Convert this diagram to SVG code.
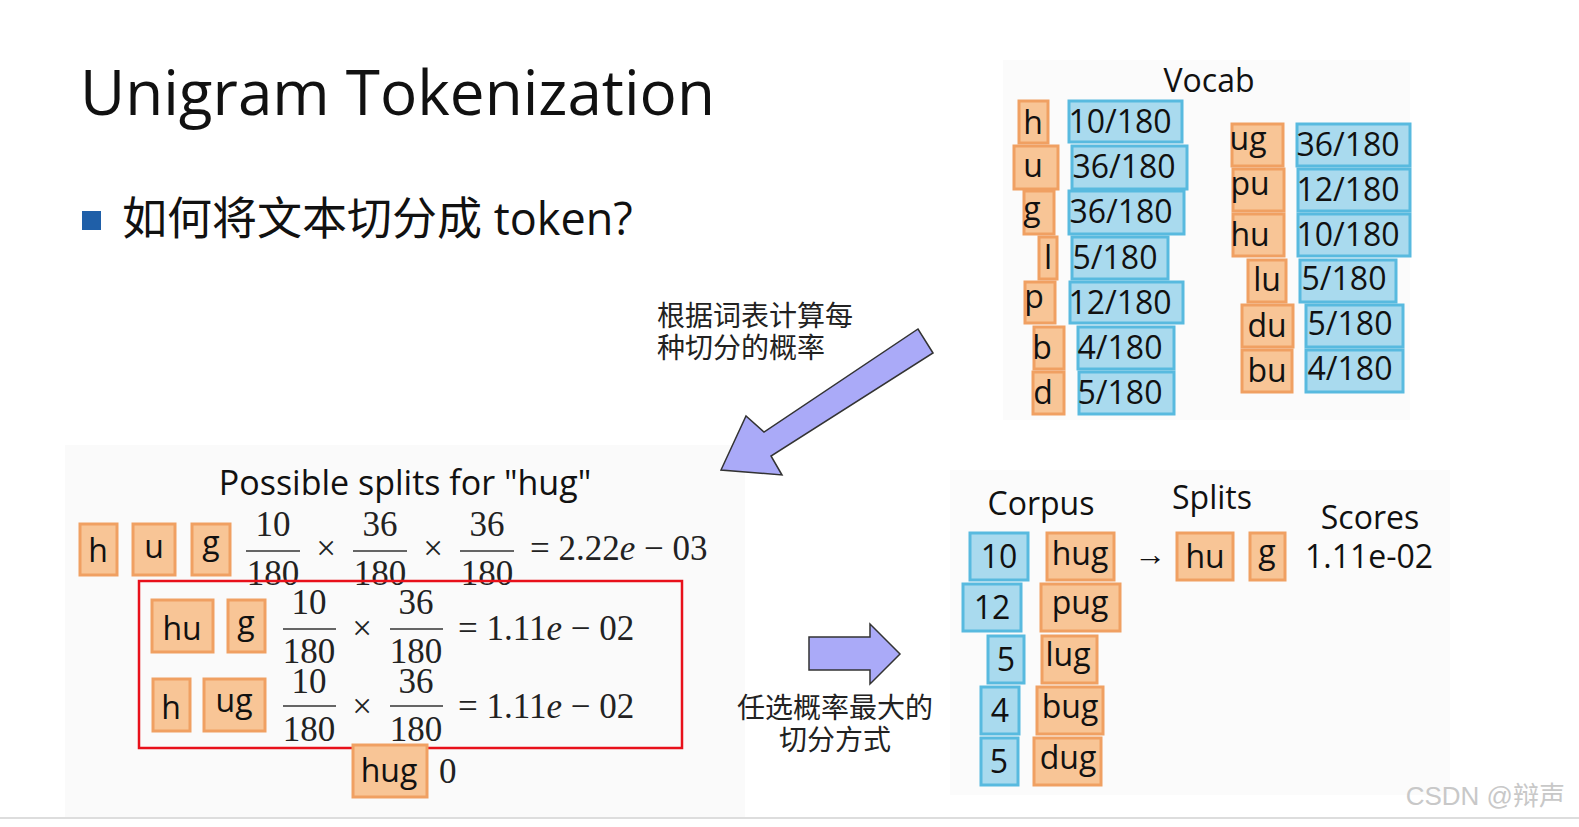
<svg xmlns="http://www.w3.org/2000/svg" width="1579" height="827" viewBox="0 0 1579 827">
<style>
.o{fill:#f8c596;stroke:#f0a062;stroke-width:3}
.b{fill:#a9daee;stroke:#58badf;stroke-width:3}
.t{font-family:"Open Sans","Liberation Sans",sans-serif;font-size:32px;fill:#111;text-anchor:middle}
.h{font-family:"Open Sans","Liberation Sans",sans-serif;fill:#111}
.m{font-family:"Liberation Serif","DejaVu Serif",serif;font-size:35px;fill:#222;text-anchor:middle}
.ml{font-family:"Liberation Serif","DejaVu Serif",serif;font-size:35px;fill:#222}
.fl{stroke:#333;stroke-width:1.5}
.cn{font-family:"Noto Sans CJK SC",sans-serif;font-size:28px;fill:#222}
.ar{fill:#aaaaf8;stroke:#333;stroke-width:1.5}
</style>
<rect width="1579" height="827" fill="#fff"/>
<rect x="1003" y="60" width="407" height="360" fill="#fbfbfb"/>
<rect x="65" y="445" width="680" height="372" fill="#fafafa"/>
<rect x="950" y="470" width="500" height="325" fill="#fbfbfb"/>
<line x1="0" y1="818" x2="1579" y2="818" stroke="#ddd" stroke-width="2"/>

<g id="title">
<text x="80" y="115" class="h" font-size="62">Unigram Tokenization</text>
<rect x="82" y="211" width="19" height="19" fill="#1f5fa8"/>
<text x="122" y="235" font-size="45" style="font-family:'Open Sans','Noto Sans CJK SC',sans-serif" fill="#111">如何将文本切分成 token?</text>
</g>

<g id="vocab">
<text x="1209" y="92" class="t" font-size="30">Vocab</text>
<rect class="o" x="1019" y="101" width="29" height="42"/><text class="t" x="1033" y="134">h</text>
<rect class="b" x="1069" y="101" width="113" height="41"/><text class="t" x="1120" y="133">10/180</text>
<rect class="o" x="1014" y="146" width="44" height="43"/><text class="t" x="1033" y="177">u</text>
<rect class="b" x="1072" y="146" width="115" height="43"/><text class="t" x="1124" y="178">36/180</text>
<rect class="o" x="1024" y="191" width="30" height="43"/><text class="t" x="1032" y="220">g</text>
<rect class="b" x="1069" y="191" width="115" height="43"/><text class="t" x="1121" y="223">36/180</text>
<rect class="o" x="1039" y="237" width="18" height="42"/><text class="t" x="1048" y="269">l</text>
<rect class="b" x="1072" y="237" width="96" height="42"/><text class="t" x="1115" y="269">5/180</text>
<rect class="o" x="1025" y="282" width="30" height="41"/><text class="t" x="1034" y="308">p</text>
<rect class="b" x="1070" y="282" width="113" height="41"/><text class="t" x="1120" y="314">12/180</text>
<rect class="o" x="1034" y="327" width="30" height="42"/><text class="t" x="1042" y="359">b</text>
<rect class="b" x="1078" y="327" width="96" height="42"/><text class="t" x="1120" y="359">4/180</text>
<rect class="o" x="1033" y="372" width="31" height="42"/><text class="t" x="1043" y="404">d</text>
<rect class="b" x="1079" y="372" width="95" height="42"/><text class="t" x="1120" y="404">5/180</text>

<rect class="o" x="1232" y="124" width="51" height="42"/><text class="t" x="1248" y="150">ug</text>
<rect class="b" x="1297" y="124" width="113" height="42"/><text class="t" x="1348" y="156">36/180</text>
<rect class="o" x="1233" y="169" width="51" height="42"/><text class="t" x="1250" y="195">pu</text>
<rect class="b" x="1298" y="169" width="112" height="42"/><text class="t" x="1348" y="201">12/180</text>
<rect class="o" x="1233" y="214" width="51" height="42"/><text class="t" x="1250" y="246">hu</text>
<rect class="b" x="1298" y="214" width="112" height="42"/><text class="t" x="1348" y="246">10/180</text>
<rect class="o" x="1248" y="260" width="38" height="42"/><text class="t" x="1267" y="291">lu</text>
<rect class="b" x="1300" y="260" width="96" height="42"/><text class="t" x="1344" y="290">5/180</text>
<rect class="o" x="1242" y="305" width="51" height="42"/><text class="t" x="1267" y="337">du</text>
<rect class="b" x="1306" y="305" width="97" height="42"/><text class="t" x="1350" y="335">5/180</text>
<rect class="o" x="1242" y="350" width="50" height="42"/><text class="t" x="1267" y="382">bu</text>
<rect class="b" x="1306" y="350" width="97" height="42"/><text class="t" x="1350" y="380">4/180</text>
</g>

<g id="note1">
<text class="cn" x="657" y="326">根据词表计算每</text>
<text class="cn" x="657" y="358">种切分的概率</text>
</g>

<g id="connectors">
<polygon class="ar" points="933,353 918,329 764,432 746,416 721,470 782,475 771,456"/>
<polygon class="ar" points="809,637 870,637 870,624 900,654 870,684 870,670 809,670"/>
</g>

<g id="splits">
<text class="h" x="405" y="495" font-size="34" text-anchor="middle">Possible splits for "hug"</text>
<rect class="o" x="80" y="524" width="37" height="51"/><text class="t" x="98" y="562">h</text>
<rect class="o" x="133" y="524" width="42" height="51"/><text class="t" x="154" y="558">u</text>
<rect class="o" x="192" y="524" width="38" height="51"/><text class="t" x="211" y="554">g</text>
<text class="m" x="273" y="536">10</text><line class="fl" x1="246" y1="551" x2="300" y2="551"/><text class="m" x="273" y="585">180</text>
<text class="m" x="326" y="560">×</text>
<text class="m" x="380" y="536">36</text><line class="fl" x1="353" y1="551" x2="407" y2="551"/><text class="m" x="380" y="585">180</text>
<text class="m" x="433" y="560">×</text>
<text class="m" x="487" y="536">36</text><line class="fl" x1="460" y1="551" x2="514" y2="551"/><text class="m" x="487" y="585">180</text>
<text class="ml" x="530" y="560">= 2.22<tspan font-style="italic">e</tspan> − 03</text>

<rect x="139" y="581" width="543" height="167" fill="none" stroke="#e8101a" stroke-width="2.5"/>

<rect class="o" x="152" y="600" width="61" height="52"/><text class="t" x="182" y="640">hu</text>
<rect class="o" x="228" y="600" width="37" height="52"/><text class="t" x="246" y="634">g</text>
<text class="m" x="309" y="614">10</text><line class="fl" x1="283" y1="629" x2="336" y2="629"/><text class="m" x="309" y="663">180</text>
<text class="m" x="362" y="640">×</text>
<text class="m" x="416" y="614">36</text><line class="fl" x1="390" y1="629" x2="443" y2="629"/><text class="m" x="416" y="663">180</text>
<text class="ml" x="458" y="640">= 1.11<tspan font-style="italic">e</tspan> − 02</text>

<rect class="o" x="153" y="679" width="37" height="52"/><text class="t" x="171" y="719">h</text>
<rect class="o" x="204" y="679" width="61" height="52"/><text class="t" x="234" y="712">ug</text>
<text class="m" x="309" y="693">10</text><line class="fl" x1="283" y1="706" x2="336" y2="706"/><text class="m" x="309" y="741">180</text>
<text class="m" x="362" y="718">×</text>
<text class="m" x="416" y="693">36</text><line class="fl" x1="390" y1="706" x2="443" y2="706"/><text class="m" x="416" y="741">180</text>
<text class="ml" x="458" y="718">= 1.11<tspan font-style="italic">e</tspan> − 02</text>

<rect class="o" x="353" y="745" width="74" height="52"/><text class="t" x="389" y="782">hug</text>
<text class="ml" x="439" y="783">0</text>
</g>

<g id="note2">
<text class="cn" x="835" y="718" text-anchor="middle">任选概率最大的</text>
<text class="cn" x="835" y="750" text-anchor="middle">切分方式</text>
</g>

<g id="corpus">
<text class="t" x="1041" y="515">Corpus</text>
<text class="t" x="1212" y="509">Splits</text>
<text class="t" x="1370" y="529">Scores</text>
<rect class="b" x="970" y="533" width="58" height="47"/><text class="t" x="999" y="568">10</text>
<rect class="o" x="1047" y="533" width="67" height="47"/><text class="t" x="1080" y="565">hug</text>
<rect class="b" x="963" y="584" width="58" height="47"/><text class="t" x="992" y="619">12</text>
<rect class="o" x="1041" y="584" width="79" height="47"/><text class="t" x="1080" y="614">pug</text>
<rect class="b" x="988" y="636" width="36" height="47"/><text class="t" x="1006" y="671">5</text>
<rect class="o" x="1042" y="636" width="55" height="47"/><text class="t" x="1068" y="666">lug</text>
<rect class="b" x="981" y="687" width="38" height="47"/><text class="t" x="1000" y="722">4</text>
<rect class="o" x="1037" y="687" width="66" height="47"/><text class="t" x="1070" y="718">bug</text>
<rect class="b" x="981" y="738" width="37" height="47"/><text class="t" x="999" y="773">5</text>
<rect class="o" x="1034" y="738" width="67" height="47"/><text class="t" x="1068" y="769">dug</text>
<text class="t" x="1150" y="565" font-size="26">→</text>
<rect class="o" x="1177" y="533" width="56" height="47"/><text class="t" x="1205" y="568">hu</text>
<rect class="o" x="1250" y="533" width="35" height="47"/><text class="t" x="1267" y="563">g</text>
<text class="t" x="1369" y="568">1.11e-02</text>
</g>

<text x="1565" y="805" text-anchor="end" font-size="26" fill="#c8c8c8" style="font-family:'Liberation Sans','Noto Sans CJK SC',sans-serif">CSDN @辩声</text>
</svg>
